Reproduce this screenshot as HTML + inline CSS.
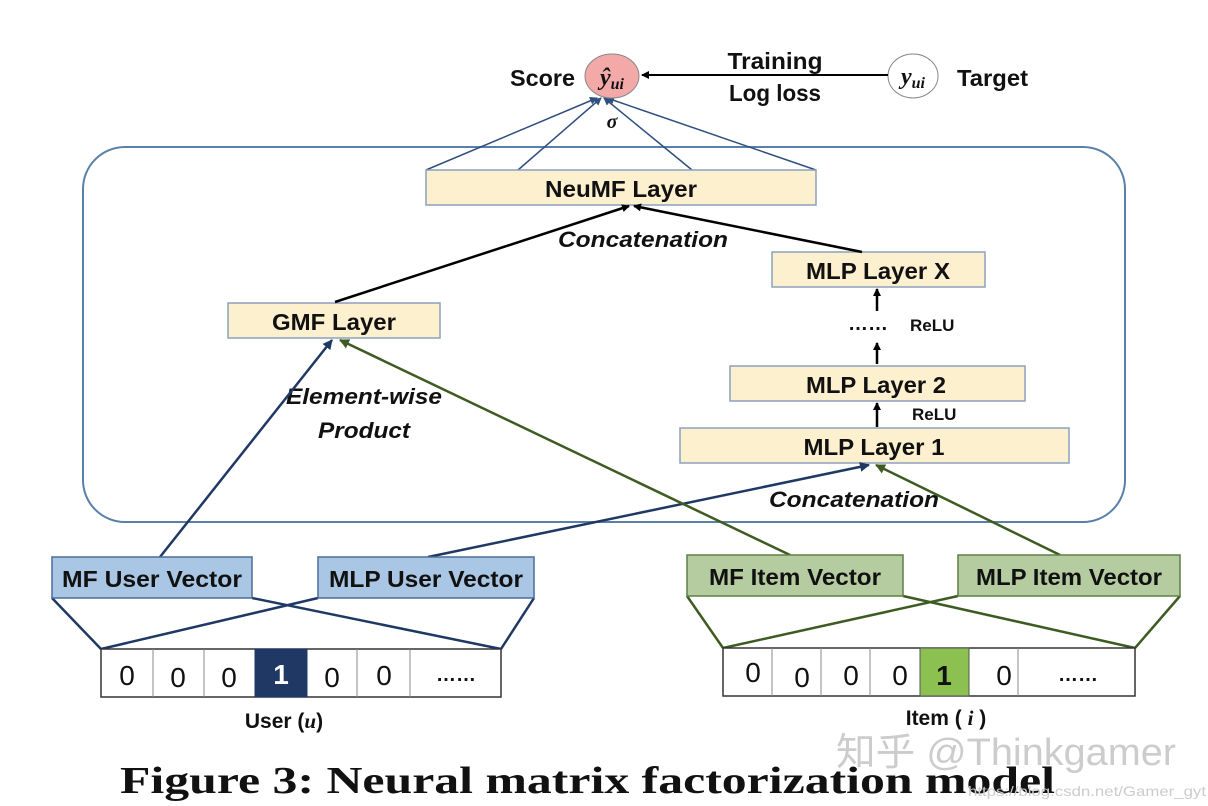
<!DOCTYPE html>
<html><head><meta charset="utf-8"><style>
html,body{margin:0;padding:0;background:#fff;}
svg{display:block;}
text{font-family:"Liberation Sans","Noto Sans CJK SC",sans-serif;font-weight:bold;fill:#111;}
</style></head><body>
<svg width="1208" height="806" viewBox="0 0 1208 806" xmlns="http://www.w3.org/2000/svg">
<defs>
<marker id="ak" markerWidth="8" markerHeight="8" refX="7" refY="4" orient="auto" markerUnits="userSpaceOnUse"><path d="M0,0 L8,4 L0,8 z" fill="#000"/></marker>
<marker id="ab" markerWidth="10" markerHeight="10" refX="9" refY="5" orient="auto" markerUnits="userSpaceOnUse"><path d="M0,0 L10,5 L0,10 z" fill="#1f3864"/></marker>
<marker id="ag" markerWidth="10" markerHeight="10" refX="9" refY="5" orient="auto" markerUnits="userSpaceOnUse"><path d="M0,0 L10,5 L0,10 z" fill="#3e5b22"/></marker>
<marker id="as" markerWidth="8" markerHeight="8" refX="7" refY="4" orient="auto" markerUnits="userSpaceOnUse"><path d="M0,0 L8,4 L0,8 z" fill="#2f4f7f"/></marker>
</defs>
<rect x="83" y="147" width="1042" height="375" rx="42" fill="none" stroke="#5a7fa8" stroke-width="2"/>
<g stroke="#2f4f7f" stroke-width="1.5" marker-end="url(#as)">
<line x1="426" y1="170" x2="597" y2="98"/><line x1="518" y1="170" x2="601" y2="98"/>
<line x1="692" y1="170" x2="604" y2="98"/><line x1="816" y1="170" x2="607" y2="98"/>
</g>
<ellipse cx="612" cy="76" rx="27" ry="22" fill="#f4a9a9" stroke="#888" stroke-width="1"/>
<text x="612" y="85" text-anchor="middle" font-style="italic" font-size="24" style="font-family:'Liberation Serif',serif">ŷ<tspan font-size="16" dy="4">ui</tspan></text>
<ellipse cx="913" cy="76" rx="25" ry="22" fill="#fff" stroke="#888" stroke-width="1"/>
<text x="913" y="84" text-anchor="middle" font-style="italic" font-size="24" style="font-family:'Liberation Serif',serif">y<tspan font-size="16" dy="4">ui</tspan></text>
<line x1="888" y1="75" x2="642" y2="75" stroke="#000" stroke-width="2" marker-end="url(#ak)"/>
<text x="510" y="86" font-size="23" textLength="65" lengthAdjust="spacingAndGlyphs">Score</text>
<text x="957" y="86" font-size="23" textLength="71" lengthAdjust="spacingAndGlyphs">Target</text>
<text x="775" y="69" font-size="23" text-anchor="middle" textLength="95" lengthAdjust="spacingAndGlyphs">Training</text>
<text x="775" y="101" font-size="23" text-anchor="middle" textLength="92" lengthAdjust="spacingAndGlyphs">Log loss</text>
<text x="612" y="128" font-size="20" text-anchor="middle" font-style="italic" style="font-family:'Liberation Serif',serif">σ</text>
<g fill="#fdf0cf" stroke="#8ca0be" stroke-width="1.5">
<rect x="426" y="170" width="390" height="35"/>
<rect x="228" y="303" width="212" height="35"/>
<rect x="772" y="252" width="213" height="35"/>
<rect x="730" y="366" width="295" height="35"/>
<rect x="680" y="428" width="389" height="35"/>
</g>
<text x="621" y="197" font-size="23" text-anchor="middle" textLength="152" lengthAdjust="spacingAndGlyphs">NeuMF Layer</text>
<text x="334" y="330" font-size="23" text-anchor="middle" textLength="124" lengthAdjust="spacingAndGlyphs">GMF Layer</text>
<text x="878" y="279" font-size="23" text-anchor="middle" textLength="144" lengthAdjust="spacingAndGlyphs">MLP Layer X</text>
<text x="876" y="393" font-size="23" text-anchor="middle" textLength="140" lengthAdjust="spacingAndGlyphs">MLP Layer 2</text>
<text x="874" y="455" font-size="23" text-anchor="middle" textLength="141" lengthAdjust="spacingAndGlyphs">MLP Layer 1</text>
<text x="643" y="247" font-size="22" text-anchor="middle" font-style="italic" textLength="170" lengthAdjust="spacingAndGlyphs">Concatenation</text>
<text x="854" y="507" font-size="22" text-anchor="middle" font-style="italic" textLength="170" lengthAdjust="spacingAndGlyphs">Concatenation</text>
<text x="364" y="404" font-size="22" text-anchor="middle" font-style="italic" textLength="156" lengthAdjust="spacingAndGlyphs">Element-wise</text>
<text x="364" y="438" font-size="22" text-anchor="middle" font-style="italic" textLength="92" lengthAdjust="spacingAndGlyphs">Product</text>
<text x="848" y="330" font-size="20">……</text>
<text x="910" y="331" font-size="17">ReLU</text>
<text x="912" y="420" font-size="17">ReLU</text>
<g stroke="#000" stroke-width="2.5" marker-end="url(#ak)">
<line x1="335" y1="302" x2="629" y2="206"/>
<line x1="862" y1="252" x2="634" y2="206"/>
<line x1="877" y1="427" x2="877" y2="403"/>
<line x1="877" y1="364" x2="877" y2="343"/>
<line x1="877" y1="311" x2="877" y2="289"/>
</g>
<g stroke-width="2.5">
<line x1="160" y1="557" x2="332" y2="340" stroke="#1f3864" marker-end="url(#ab)"/>
<line x1="428" y1="557" x2="869" y2="465" stroke="#1f3864" marker-end="url(#ab)"/>
<line x1="790" y1="555" x2="340" y2="340" stroke="#3e5b22" marker-end="url(#ag)"/>
<line x1="1060" y1="555" x2="876" y2="465" stroke="#3e5b22" marker-end="url(#ag)"/>
</g>
<g stroke="#1f3864" stroke-width="2.5">
<line x1="52" y1="598" x2="101" y2="649"/><line x1="252" y1="598" x2="501" y2="649"/>
<line x1="318" y1="598" x2="101" y2="649"/><line x1="534" y1="598" x2="501" y2="649"/>
</g>
<g stroke="#3e5b22" stroke-width="2.5">
<line x1="687" y1="596" x2="723" y2="648"/><line x1="903" y1="596" x2="1135" y2="648"/>
<line x1="958" y1="596" x2="723" y2="648"/><line x1="1180" y1="596" x2="1135" y2="648"/>
</g>
<g fill="#a9c6e4" stroke="#4a6d99" stroke-width="1.5">
<rect x="52" y="557" width="200" height="41"/><rect x="318" y="557" width="216" height="41"/>
</g>
<g fill="#b5cca1" stroke="#5e7f45" stroke-width="1.5">
<rect x="687" y="555" width="216" height="41"/><rect x="958" y="555" width="222" height="41"/>
</g>
<text x="152" y="587" font-size="23" text-anchor="middle" textLength="180" lengthAdjust="spacingAndGlyphs">MF User Vector</text>
<text x="426" y="587" font-size="23" text-anchor="middle" textLength="194" lengthAdjust="spacingAndGlyphs">MLP User Vector</text>
<text x="795" y="585" font-size="23" text-anchor="middle" textLength="172" lengthAdjust="spacingAndGlyphs">MF Item Vector</text>
<text x="1069" y="585" font-size="23" text-anchor="middle" textLength="186" lengthAdjust="spacingAndGlyphs">MLP Item Vector</text>
<rect x="101" y="649" width="400" height="48" fill="#fff" stroke="#333" stroke-width="1.5"/>
<g stroke="#888" stroke-width="1"><line x1="153" y1="649" x2="153" y2="697"/><line x1="204" y1="649" x2="204" y2="697"/><line x1="357" y1="649" x2="357" y2="697"/><line x1="410" y1="649" x2="410" y2="697"/></g>
<rect x="255" y="649" width="52" height="48" fill="#1f3864" stroke="#1f3864"/>
<g font-size="28" text-anchor="middle">
<text x="127" y="685" style="font-weight:normal">0</text><text x="178" y="687" style="font-weight:normal">0</text><text x="229" y="687" style="font-weight:normal">0</text>
<text x="281" y="684" style="fill:#fff">1</text>
<text x="332" y="687" style="font-weight:normal">0</text><text x="384" y="685" style="font-weight:normal">0</text>
<text x="456" y="681" font-size="20">……</text>
</g>
<text x="284" y="728" font-size="21" text-anchor="middle">User (<tspan font-style="italic" style="font-family:'Liberation Serif',serif">u</tspan>)</text>
<rect x="723" y="648" width="412" height="48" fill="#fff" stroke="#333" stroke-width="1.5"/>
<g stroke="#888" stroke-width="1"><line x1="772" y1="648" x2="772" y2="696"/><line x1="821" y1="648" x2="821" y2="696"/><line x1="870" y1="648" x2="870" y2="696"/><line x1="1018" y1="648" x2="1018" y2="696"/></g>
<rect x="920" y="648" width="49" height="48" fill="#8cc152" stroke="#555"/>
<g font-size="28" text-anchor="middle">
<text x="753" y="682" style="font-weight:normal">0</text><text x="802" y="687" style="font-weight:normal">0</text><text x="851" y="685" style="font-weight:normal">0</text><text x="900" y="685" style="font-weight:normal">0</text>
<text x="944" y="685">1</text>
<text x="1004" y="685" style="font-weight:normal">0</text>
<text x="1078" y="681" font-size="20">……</text>
</g>
<text x="946" y="725" font-size="21" text-anchor="middle">Item ( <tspan font-style="italic" style="font-family:'Liberation Serif',serif">i</tspan> )</text>
<text x="836" y="765" font-size="38" textLength="340" lengthAdjust="spacingAndGlyphs" style="fill:#ccc;font-weight:normal">知乎 @Thinkgamer</text>
<text x="120" y="793" font-size="38" textLength="935" lengthAdjust="spacingAndGlyphs" style="font-family:'Liberation Serif',serif;font-weight:bold">Figure 3: Neural matrix factorization model</text>
<text x="968" y="796" font-size="14" textLength="238" lengthAdjust="spacingAndGlyphs" style="fill:#ccc;font-weight:normal">https://blog.csdn.net/Gamer_gyt</text>
</svg>
</body></html>
